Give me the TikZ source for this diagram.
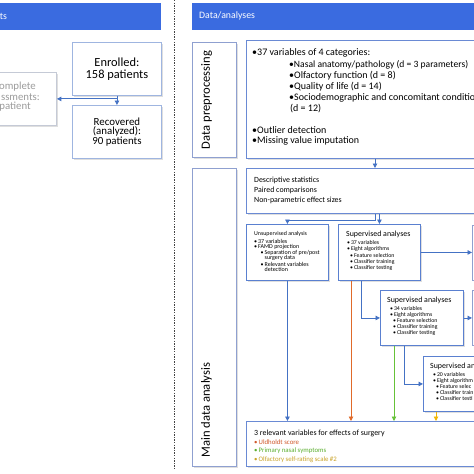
\documentclass[tikz,border=0pt]{standalone}
\usepackage{fontspec}
\setmainfont{Carlito}
\usetikzlibrary{arrows.meta,shadows,calc}
\definecolor{hdr}{HTML}{3A6BE0}
\definecolor{arrb}{HTML}{4472C4}
\definecolor{bxb}{HTML}{6A8AD4}
\definecolor{inb}{HTML}{5A80D0}
\definecolor{lblb}{HTML}{8FA0D0}
\definecolor{enb}{HTML}{9FB5E0}
\definecolor{incb}{HTML}{C5CAD6}
\definecolor{inct}{HTML}{9C9C9C}
\definecolor{ora}{HTML}{E06A2A}
\definecolor{grn}{HTML}{66C238}
\definecolor{yel}{HTML}{F2B705}
\definecolor{oratx}{HTML}{D0582A}
\definecolor{grntx}{HTML}{5AAE2E}
\definecolor{yeltx}{HTML}{C9A227}
\definecolor{sepc}{HTML}{444444}
\newcommand\fsz[2]{\fontsize{#1}{#2}\selectfont}
\begin{document}
\begin{tikzpicture}[x=1pt,y=-1pt,
  shd/.style={drop shadow={shadow xshift=1.2pt,shadow yshift=-1.5pt,fill=black!35,opacity=0.35}},
  rbox/.style={draw=#1, line width=0.9pt, fill=white, anchor=north west, inner sep=0pt, shd},
  hbar/.style={fill=hdr, draw=none, anchor=north west, inner sep=0pt},
  t/.style={inner sep=0pt, anchor=west},
  te/.style={inner sep=0pt, anchor=east},
  arr/.style={draw=arrb, line width=0.9pt, -{Triangle[length=4.5pt,width=4.5pt]}},
  arro/.style={arr, draw=ora, -{Triangle[length=4.5pt,width=4.5pt,fill=ora]}},
  arrg/.style={arr, draw=grn, -{Triangle[length=4.5pt,width=4.5pt,fill=grn]}},
  arry/.style={arr, draw=yel, -{Triangle[length=4.5pt,width=4.5pt,fill=yel]}},
  lbl/.style={rotate=90, inner sep=0pt, font=\fsz{12.6}{14}},
  pp/.style={t, font=\fsz{10}{11}}
]
\useasboundingbox (0,0) rectangle (474,474);
\clip (0,0) rectangle (474,474);
\fill[white] (0,0) rectangle (474,474);

% headers
\node[hbar, minimum width=181pt, minimum height=27pt] (h1) at (-20,3) {};
\node[hbar, minimum width=300pt, minimum height=27pt] (h2) at (192,3) {};
\node[t, text=white, font=\fsz{9.8}{11}] (h1t) at (-0.3,16) {ts};
\node[t, text=white, font=\fsz{9.8}{11}] (h2t) at (199,16) {Data/analyses};

% separator
\coordinate (sepT) at (174,0);
\coordinate (sepB) at (174,470);
\draw[sepc, line width=0.8pt, dash pattern=on 1.3pt off 1.3pt] (sepT) -- (sepB);

% left column
\node[rbox=incb, minimum width=90pt, minimum height=53pt] (inc) at (-34,72) {};
\node[te, text=inct, font=\fsz{10.8}{12}] (inc1) at (36,87) {omplete};
\node[te, text=inct, font=\fsz{10.8}{12}] (inc2) at (40,97) {ssments:};
\node[te, text=inct, font=\fsz{10.8}{12}] (inc3) at (31,107) {patient};
\node[rbox=enb, minimum width=89pt, minimum height=53pt, align=center, font=\fsz{12.4}{11.5}] (enr) at (72,42) {Enrolled:\\158 patients};
\node[rbox=enb, minimum width=89pt, minimum height=53pt, align=center, font=\fsz{10.9}{9.5}] (rec) at (72,105) {Recovered\\(analyzed):\\90 patients};
\coordinate (j1) at ([yshift=-3pt]enr.south);
\draw[arr] (enr.south) -- (rec.north);
\draw[arr] (j1) -- (j1 -| inc.east);

% right column: label boxes
\node[rbox=lblb, minimum width=44pt, minimum height=115pt] (lpre) at (192,42) {};
\node[lbl] (lpret) at (206.5,100) {Data preprocessing};
\node[rbox=lblb, minimum width=44pt, minimum height=298pt] (lmain) at (192,168) {};
\node[lbl] (lmaint) at (206.5,410) {Main data analysis};

% preprocessing
\node[rbox=bxb, minimum width=254pt, minimum height=118pt] (pre) at (246,40) {};
\node[pp] (p1) at (252,52.5) {•37 variables of 4 categories:};
\node[pp, font=\fsz{9.6}{11}] (p2) at (289,64.5) {•Nasal anatomy/pathology (d = 3 parameters)};
\node[pp] (p3) at (289,75.5) {•Olfactory function (d = 8)};
\node[pp] (p4) at (289,86.5) {•Quality of life (d = 14)};
\node[pp] (p5) at (289,97.5) {•Sociodemographic and concomitant conditio};
\node[pp] (p6) at (290,108.5) {(d = 12)};
\node[pp] (p7) at (252,130) {•Outlier detection};
\node[pp] (p8) at (252,141) {•Missing value imputation};

% descriptive
\node[rbox=bxb, minimum width=254pt, minimum height=45pt] (desc) at (246,168) {};
\node[t, font=\fsz{7.9}{9}] (d1) at (254,180) {Descriptive statistics};
\node[t, font=\fsz{7.9}{9}] (d2) at (254,190) {Paired comparisons};
\node[t, font=\fsz{7.9}{9}] (d3) at (254,200) {Non-parametric effect sizes};

% unsupervised
\node[rbox=inb, minimum width=82pt, minimum height=56pt] (uns) at (246,224) {};
\node[t, font=\fsz{5.9}{6}] (u0) at (254,234) {Unsupervised analysis};
\node[t, font=\fsz{6}{6}] (u1) at (254,241) {•\,37 variables};
\node[t, font=\fsz{6}{6}] (u2) at (254,247) {•\,FAMD projection};
\node[t, font=\fsz{6}{6}] (u3) at (260.5,253) {•\,Separation of pre/post};
\node[t, font=\fsz{6}{6}] (u4) at (264.5,258) {surgery data};
\node[t, font=\fsz{6}{6}] (u5) at (260.5,264) {•\,Relevant variables};
\node[t, font=\fsz{6}{6}] (u6) at (264.5,269) {detection};

% supervised 1
\node[rbox=inb, minimum width=82pt, minimum height=56pt] (sup1) at (338,224) {};
\node[t, font=\fsz{7.9}{8}] (s10) at (346,234) {Supervised analyses};
\node[t, font=\fsz{5.8}{6}] (s11) at (347,243) {•\,37 variables};
\node[t, font=\fsz{5.8}{6}] (s12) at (347,249) {•\,Eight algorithms};
\node[t, font=\fsz{5.8}{6}] (s13) at (350,256) {•\,Feature selection};
\node[t, font=\fsz{5.8}{6}] (s14) at (350,262) {•\,Classifier training};
\node[t, font=\fsz{5.8}{6}] (s15) at (350,268) {•\,Classifier testing};

% supervised 2
\node[rbox=inb, minimum width=83pt, minimum height=55pt] (sup2) at (380,290) {};
\node[t, font=\fsz{7.9}{8}] (s20) at (387,300) {Supervised analyses};
\node[t, font=\fsz{5.8}{6}] (s21) at (390,309) {•\,34 variables};
\node[t, font=\fsz{5.8}{6}] (s22) at (390,315) {•\,Eight algorithms};
\node[t, font=\fsz{5.8}{6}] (s23) at (393,321) {•\,Feature selection};
\node[t, font=\fsz{5.8}{6}] (s24) at (393,327) {•\,Classifier training};
\node[t, font=\fsz{5.8}{6}] (s25) at (393,333) {•\,Classifier testing};

% supervised 3 (cut)
\node[rbox=inb, minimum width=87pt, minimum height=55pt] (sup3) at (423,356) {};
\node[t, font=\fsz{7.9}{8}] (s30) at (430,366) {Supervised an};
\node[t, font=\fsz{5.8}{6}] (s31) at (433,375) {•\,20 variables};
\node[t, font=\fsz{5.8}{6}] (s32) at (433,381) {•\,Eight algorithm};
\node[t, font=\fsz{5.8}{6}] (s33) at (436,387) {•\,Feature selec};
\node[t, font=\fsz{5.8}{6}] (s34) at (436,393) {•\,Classifier train};
\node[t, font=\fsz{5.8}{6}] (s35) at (436,399) {•\,Classifier testi};

% cut boxes at right edge
\node[rbox=lblb, minimum width=40pt, minimum height=55pt] (cutA) at (472,225) {};
\node[rbox=lblb, minimum width=40pt, minimum height=55pt] (cutB) at (472,290) {};

% bottom box
\node[rbox=bxb, minimum width=254pt, minimum height=45pt] (bot) at (246,421) {};
\node[t, font=\fsz{7.9}{8}] (b0) at (254,433) {3 relevant variables for effects of surgery};
\node[t, text=oratx, font=\fsz{6.8}{7}] (b1) at (254,442) {•\,Uldholdt score};
\node[t, text=grntx, font=\fsz{6.8}{7}] (b2) at (254,451) {•\,Primary nasal symptoms};
\node[t, text=yeltx, font=\fsz{6.8}{7}] (b3) at (254,460) {•\,Olfactory self-rating scale \#2};

% connectors
\coordinate (preA) at ([xshift=129pt]pre.south west);
\coordinate (descA) at ([xshift=129pt]desc.south west);
\draw[arr] (preA) -- (preA |- desc.north);
\draw[arr] (descA) -- ++(0,7) -| (uns.north);
\draw[arr] (desc.south -| sup1.north) -- (sup1.north);
\draw[arr] (sup1.east) -- (sup1.east -| cutA.west);
\draw[arr] (sup2.east) -- (sup2.east -| cutB.west);
\coordinate (s1d) at ([xshift=23pt]sup1.south west);
\coordinate (s2d) at ([xshift=24pt]sup2.south west);
\draw[arr] (s1d) |- (sup2.west);
\draw[arr] (s2d) |- (sup3.west);
\draw[arr] (uns.south) -- (uns.south |- bot.north);
\coordinate (o1) at ([xshift=13pt]sup1.south west);
\coordinate (g1) at ([xshift=14pt]sup2.south west);
\coordinate (y1) at ([xshift=13pt]sup3.south west);
\draw[arro] (o1) -- (o1 |- bot.north);
\draw[arrg] (g1) -- (g1 |- bot.north);
\draw[arry] (y1) -- (y1 |- bot.north);
\end{tikzpicture}
\end{document}
